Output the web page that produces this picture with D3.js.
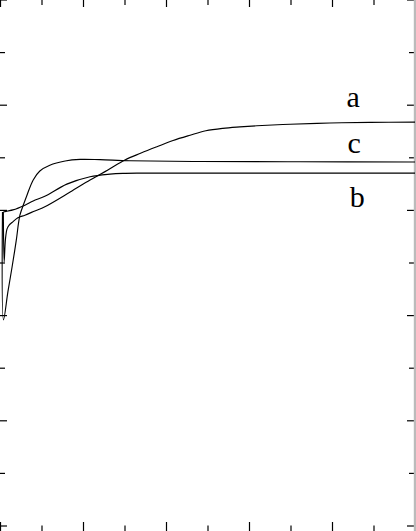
<!DOCTYPE html>
<html>
<head>
<meta charset="utf-8">
<script src="https://cdn.jsdelivr.net/npm/d3@7"></script>
<style>
  html, body { margin: 0; padding: 0; background: #fff; }
  svg { display: block; }
</style>
</head>
<body>
<script>
var WIDTH = 416;
var HEIGHT = 531;

// curve a : slow rise to the highest level
var tA = [0.08, 0.1, 0.13, 0.17, 0.22, 0.29, 0.43, 0.6, 0.84, 1.08, 1.69, 2.17, 2.6, 3.01, 3.4, 3.78, 4.17, 4.58, 4.96, 5.37, 5.78, 6.19, 6.99, 7.95, 8.92, 10];
var vA = [5.96, 5.01, 5.43, 5.64, 5.71, 5.76, 5.85, 5.90, 5.98, 6.06, 6.34, 6.57, 6.76, 6.95, 7.08, 7.20, 7.32, 7.42, 7.504, 7.551, 7.578, 7.599, 7.629, 7.652, 7.664, 7.67];

// curve b : no dip, settles lowest
var tB = [0.08, 0.19, 0.31, 0.6, 0.8, 1.08, 1.61, 2.17, 2.65, 2.96, 3.37, 4.82, 7.5, 10];
var vB = [5.96, 5.98, 6.0, 6.09, 6.17, 6.26, 6.49, 6.63, 6.68, 6.695, 6.70, 6.70, 6.70, 6.70];

// curve c : deep dip then fast rise
var tC = [0.06, 0.084, 0.19, 0.29, 0.39, 0.48, 0.58, 0.65, 0.8, 0.96, 1.2, 1.57, 1.93, 2.41, 3.13, 4.82, 7.23, 10];
var vC = [5.96, 3.91, 4.44, 4.91, 5.41, 5.90, 6.13, 6.28, 6.57, 6.74, 6.85, 6.93, 6.96, 6.955, 6.935, 6.92, 6.915, 6.91];

var majorTicks = [0, 2, 4, 6, 8, 10];
var minorTicks = [1, 3, 5, 7, 9];

var svg = d3.select('body').append('svg')
    .attr('width', WIDTH)
    .attr('height', HEIGHT);

var x = d3.scaleLinear().domain([0, 10]).range([0, 415]);
var y = d3.scaleLinear().domain([0, 10]).range([525.5, -0.5]);

function addAxis(axisFn, scale, values, size, tx, ty) {
    var g = svg.append('g')
        .attr('transform', 'translate(' + tx + ',' + ty + ')')
        .call(axisFn(scale).tickValues(values).tickSize(-size).tickFormat(''));
    g.select('.domain').remove();
    g.selectAll('.tick line').attr('stroke', '#000').attr('stroke-width', 1.2);
}

addAxis(d3.axisTop, x, majorTicks, 7, 0, 0);
addAxis(d3.axisTop, x, minorTicks, 5, 0, 0);
addAxis(d3.axisBottom, x, majorTicks, 10, 0, 532);
addAxis(d3.axisBottom, x, minorTicks, 6.5, 0, 532);
addAxis(d3.axisLeft, y, majorTicks, 7, 0, 0);
addAxis(d3.axisLeft, y, minorTicks, 5, 0, 0);
addAxis(d3.axisRight, y, majorTicks, 8, 415, 0);
addAxis(d3.axisRight, y, minorTicks, 6, 415, 0);

// right frame edge (the rest of the frame is cropped away)
svg.append('line')
    .attr('x1', 415).attr('x2', 415)
    .attr('y1', 0).attr('y2', HEIGHT)
    .attr('stroke', '#bbb')
    .attr('stroke-width', 2.4);

var line = d3.line()
    .x(function (d) { return x(d[0]); })
    .y(function (d) { return y(d[1]); })
    .curve(d3.curveCatmullRom.alpha(0.5));

var series = [
    { name: 'a', pts: d3.zip(tA, vA), dx: 0, dy: -15 },
    { name: 'c', pts: d3.zip(tC, vC), dx: 1, dy: -9 },
    { name: 'b', pts: d3.zip(tB, vB), dx: 4, dy: 34 }
];

svg.selectAll('path.curve')
    .data(series)
    .enter()
    .append('path')
    .attr('class', 'curve')
    .attr('d', function (d) { return line(d.pts); })
    .attr('fill', 'none')
    .attr('stroke', '#000')
    .attr('stroke-width', 1.15);

svg.selectAll('text.lbl')
    .data(series)
    .enter()
    .append('text')
    .attr('class', 'lbl')
    .attr('x', function (d) { return x(8.51) + d.dx; })
    .attr('y', function (d) { return y(d.pts[d.pts.length - 1][1]) + d.dy; })
    .attr('text-anchor', 'middle')
    .attr('font-family', '"Liberation Serif", "DejaVu Serif", serif')
    .attr('font-size', 30)
    .text(function (d) { return d.name; });
</script>
</body>
</html>
